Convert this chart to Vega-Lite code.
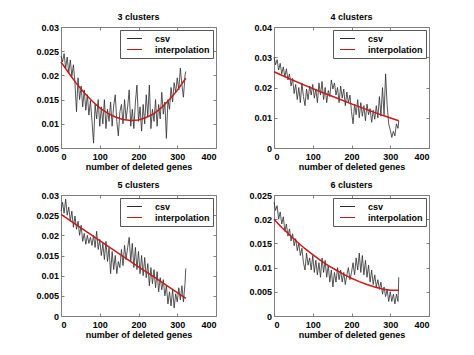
{
  "$schema": "https://vega.github.io/schema/vega-lite/v6.json",
  "background": "white",
  "padding": {"left": 35, "top": 12, "right": 0, "bottom": 0},
  "columns": 2,
  "bounds": "flush",
  "spacing": {"row": 47, "column": 58},
  "config": {
    "view": {"stroke": "#7f7f7f", "strokeWidth": 1},
    "font": "Liberation Sans",
    "axis": {"labelFont": "Liberation Sans", "labelFontWeight": "bold", "labelFontSize": 9, "labelColor": "#000", "titleFont": "Liberation Sans", "titleFontWeight": "bold", "titleFontSize": 9, "titleColor": "#000", "domain": false, "tickColor": "#7f7f7f", "tickSize": -3, "grid": false, "titlePadding": 1},
    "axisX": {"labelPadding": 7.5},
    "axisY": {"labelPadding": 5.5},
    "title": {"font": "Liberation Sans", "fontWeight": "bold", "fontSize": 9, "color": "#000", "offset": 1},
    "legend": {"orient": "top-right", "offset": 3, "strokeColor": "#555", "fillColor": "#fff", "padding": 3, "symbolType": "M-1.5,0H1.5", "symbolSize": 100, "symbolStrokeWidth": 1, "symbolOffset": 6, "labelOffset": 15, "labelFont": "Liberation Sans", "labelFontWeight": "bold", "labelFontSize": 9, "labelColor": "#000", "rowPadding": 0, "cornerRadius": 0}
  },
  "datasets": {
    "p1": [
      {"x":0,"y":0.0240,"series":"csv"},{"x":4,"y":0.0228,"series":"csv"},{"x":8,"y":0.0245,"series":"csv"},{"x":12,"y":0.0215,"series":"csv"},{"x":16,"y":0.0238,"series":"csv"},{"x":20,"y":0.0205,"series":"csv"},{"x":24,"y":0.0232,"series":"csv"},{"x":28,"y":0.0198,"series":"csv"},{"x":32,"y":0.0222,"series":"csv"},{"x":36,"y":0.0185,"series":"csv"},{"x":40,"y":0.0125,"series":"csv"},{"x":44,"y":0.0195,"series":"csv"},{"x":48,"y":0.0150,"series":"csv"},{"x":52,"y":0.0178,"series":"csv"},{"x":56,"y":0.0135,"series":"csv"},{"x":60,"y":0.0170,"series":"csv"},{"x":64,"y":0.0128,"series":"csv"},{"x":68,"y":0.0160,"series":"csv"},{"x":72,"y":0.0118,"series":"csv"},{"x":76,"y":0.0148,"series":"csv"},{"x":80,"y":0.0105,"series":"csv"},{"x":84,"y":0.0060,"series":"csv"},{"x":88,"y":0.0140,"series":"csv"},{"x":92,"y":0.0110,"series":"csv"},{"x":96,"y":0.0150,"series":"csv"},{"x":100,"y":0.0095,"series":"csv"},{"x":104,"y":0.0135,"series":"csv"},{"x":108,"y":0.0100,"series":"csv"},{"x":112,"y":0.0150,"series":"csv"},{"x":116,"y":0.0090,"series":"csv"},{"x":120,"y":0.0130,"series":"csv"},{"x":124,"y":0.0105,"series":"csv"},{"x":128,"y":0.0145,"series":"csv"},{"x":132,"y":0.0095,"series":"csv"},{"x":136,"y":0.0138,"series":"csv"},{"x":140,"y":0.0160,"series":"csv"},{"x":144,"y":0.0105,"series":"csv"},{"x":148,"y":0.0075,"series":"csv"},{"x":152,"y":0.0125,"series":"csv"},{"x":156,"y":0.0140,"series":"csv"},{"x":160,"y":0.0100,"series":"csv"},{"x":164,"y":0.0150,"series":"csv"},{"x":168,"y":0.0110,"series":"csv"},{"x":172,"y":0.0135,"series":"csv"},{"x":176,"y":0.0170,"series":"csv"},{"x":180,"y":0.0095,"series":"csv"},{"x":184,"y":0.0130,"series":"csv"},{"x":188,"y":0.0090,"series":"csv"},{"x":192,"y":0.0145,"series":"csv"},{"x":196,"y":0.0180,"series":"csv"},{"x":200,"y":0.0105,"series":"csv"},{"x":204,"y":0.0135,"series":"csv"},{"x":208,"y":0.0085,"series":"csv"},{"x":212,"y":0.0140,"series":"csv"},{"x":216,"y":0.0100,"series":"csv"},{"x":220,"y":0.0160,"series":"csv"},{"x":224,"y":0.0115,"series":"csv"},{"x":228,"y":0.0180,"series":"csv"},{"x":232,"y":0.0090,"series":"csv"},{"x":236,"y":0.0130,"series":"csv"},{"x":240,"y":0.0105,"series":"csv"},{"x":244,"y":0.0150,"series":"csv"},{"x":248,"y":0.0095,"series":"csv"},{"x":252,"y":0.0140,"series":"csv"},{"x":256,"y":0.0110,"series":"csv"},{"x":260,"y":0.0165,"series":"csv"},{"x":264,"y":0.0120,"series":"csv"},{"x":268,"y":0.0145,"series":"csv"},{"x":272,"y":0.0070,"series":"csv"},{"x":276,"y":0.0150,"series":"csv"},{"x":280,"y":0.0130,"series":"csv"},{"x":284,"y":0.0175,"series":"csv"},{"x":288,"y":0.0145,"series":"csv"},{"x":292,"y":0.0185,"series":"csv"},{"x":296,"y":0.0165,"series":"csv"},{"x":300,"y":0.0195,"series":"csv"},{"x":304,"y":0.0170,"series":"csv"},{"x":308,"y":0.0215,"series":"csv"},{"x":312,"y":0.0180,"series":"csv"},{"x":316,"y":0.0155,"series":"csv"},{"x":320,"y":0.0200,"series":"csv"},{"x":322,"y":0.0208,"series":"csv"},
      {"x":0,"y":0.0228,"series":"interpolation"},{"x":20,"y":0.0205,"series":"interpolation"},{"x":40,"y":0.0183,"series":"interpolation"},{"x":60,"y":0.0164,"series":"interpolation"},{"x":80,"y":0.0147,"series":"interpolation"},{"x":100,"y":0.0133,"series":"interpolation"},{"x":120,"y":0.0122,"series":"interpolation"},{"x":140,"y":0.0114,"series":"interpolation"},{"x":160,"y":0.0109,"series":"interpolation"},{"x":180,"y":0.0107,"series":"interpolation"},{"x":200,"y":0.0108,"series":"interpolation"},{"x":220,"y":0.0113,"series":"interpolation"},{"x":240,"y":0.0121,"series":"interpolation"},{"x":260,"y":0.0134,"series":"interpolation"},{"x":280,"y":0.0150,"series":"interpolation"},{"x":300,"y":0.0169,"series":"interpolation"},{"x":322,"y":0.0194,"series":"interpolation"}
    ],
    "p2": [
      {"x":0,"y":0.0300,"series":"csv"},{"x":4,"y":0.0275,"series":"csv"},{"x":8,"y":0.0292,"series":"csv"},{"x":12,"y":0.0258,"series":"csv"},{"x":16,"y":0.0280,"series":"csv"},{"x":20,"y":0.0245,"series":"csv"},{"x":24,"y":0.0268,"series":"csv"},{"x":28,"y":0.0235,"series":"csv"},{"x":32,"y":0.0262,"series":"csv"},{"x":36,"y":0.0225,"series":"csv"},{"x":40,"y":0.0245,"series":"csv"},{"x":44,"y":0.0205,"series":"csv"},{"x":48,"y":0.0230,"series":"csv"},{"x":52,"y":0.0180,"series":"csv"},{"x":56,"y":0.0210,"series":"csv"},{"x":60,"y":0.0160,"series":"csv"},{"x":64,"y":0.0200,"series":"csv"},{"x":68,"y":0.0150,"series":"csv"},{"x":72,"y":0.0215,"series":"csv"},{"x":76,"y":0.0170,"series":"csv"},{"x":80,"y":0.0140,"series":"csv"},{"x":84,"y":0.0195,"series":"csv"},{"x":88,"y":0.0160,"series":"csv"},{"x":92,"y":0.0205,"series":"csv"},{"x":96,"y":0.0175,"series":"csv"},{"x":100,"y":0.0210,"series":"csv"},{"x":104,"y":0.0165,"series":"csv"},{"x":108,"y":0.0195,"series":"csv"},{"x":112,"y":0.0150,"series":"csv"},{"x":116,"y":0.0215,"series":"csv"},{"x":120,"y":0.0175,"series":"csv"},{"x":124,"y":0.0220,"series":"csv"},{"x":128,"y":0.0160,"series":"csv"},{"x":132,"y":0.0200,"series":"csv"},{"x":136,"y":0.0150,"series":"csv"},{"x":140,"y":0.0190,"series":"csv"},{"x":144,"y":0.0170,"series":"csv"},{"x":148,"y":0.0225,"series":"csv"},{"x":152,"y":0.0195,"series":"csv"},{"x":156,"y":0.0215,"series":"csv"},{"x":160,"y":0.0175,"series":"csv"},{"x":164,"y":0.0200,"series":"csv"},{"x":168,"y":0.0150,"series":"csv"},{"x":172,"y":0.0205,"series":"csv"},{"x":176,"y":0.0165,"series":"csv"},{"x":180,"y":0.0195,"series":"csv"},{"x":184,"y":0.0140,"series":"csv"},{"x":188,"y":0.0185,"series":"csv"},{"x":192,"y":0.0150,"series":"csv"},{"x":196,"y":0.0175,"series":"csv"},{"x":200,"y":0.0120,"series":"csv"},{"x":204,"y":0.0080,"series":"csv"},{"x":208,"y":0.0145,"series":"csv"},{"x":212,"y":0.0110,"series":"csv"},{"x":216,"y":0.0160,"series":"csv"},{"x":220,"y":0.0100,"series":"csv"},{"x":224,"y":0.0150,"series":"csv"},{"x":228,"y":0.0105,"series":"csv"},{"x":232,"y":0.0140,"series":"csv"},{"x":236,"y":0.0090,"series":"csv"},{"x":240,"y":0.0145,"series":"csv"},{"x":244,"y":0.0110,"series":"csv"},{"x":248,"y":0.0130,"series":"csv"},{"x":252,"y":0.0085,"series":"csv"},{"x":256,"y":0.0125,"series":"csv"},{"x":260,"y":0.0095,"series":"csv"},{"x":264,"y":0.0140,"series":"csv"},{"x":268,"y":0.0100,"series":"csv"},{"x":272,"y":0.0170,"series":"csv"},{"x":276,"y":0.0105,"series":"csv"},{"x":280,"y":0.0200,"series":"csv"},{"x":284,"y":0.0110,"series":"csv"},{"x":288,"y":0.0245,"series":"csv"},{"x":292,"y":0.0140,"series":"csv"},{"x":296,"y":0.0080,"series":"csv"},{"x":300,"y":0.0060,"series":"csv"},{"x":304,"y":0.0035,"series":"csv"},{"x":308,"y":0.0055,"series":"csv"},{"x":312,"y":0.0040,"series":"csv"},{"x":316,"y":0.0080,"series":"csv"},{"x":320,"y":0.0065,"series":"csv"},{"x":322,"y":0.0090,"series":"csv"},
      {"x":0,"y":0.0252,"series":"interpolation"},{"x":40,"y":0.0229,"series":"interpolation"},{"x":80,"y":0.0207,"series":"interpolation"},{"x":120,"y":0.0186,"series":"interpolation"},{"x":160,"y":0.0166,"series":"interpolation"},{"x":200,"y":0.0146,"series":"interpolation"},{"x":240,"y":0.0127,"series":"interpolation"},{"x":280,"y":0.0108,"series":"interpolation"},{"x":322,"y":0.0090,"series":"interpolation"}
    ],
    "p3": [
      {"x":0,"y":0.0260,"series":"csv"},{"x":4,"y":0.0282,"series":"csv"},{"x":8,"y":0.0255,"series":"csv"},{"x":12,"y":0.0290,"series":"csv"},{"x":16,"y":0.0250,"series":"csv"},{"x":20,"y":0.0270,"series":"csv"},{"x":24,"y":0.0235,"series":"csv"},{"x":28,"y":0.0260,"series":"csv"},{"x":32,"y":0.0220,"series":"csv"},{"x":36,"y":0.0248,"series":"csv"},{"x":40,"y":0.0215,"series":"csv"},{"x":44,"y":0.0235,"series":"csv"},{"x":48,"y":0.0200,"series":"csv"},{"x":52,"y":0.0225,"series":"csv"},{"x":56,"y":0.0185,"series":"csv"},{"x":60,"y":0.0205,"series":"csv"},{"x":64,"y":0.0178,"series":"csv"},{"x":68,"y":0.0200,"series":"csv"},{"x":72,"y":0.0180,"series":"csv"},{"x":76,"y":0.0195,"series":"csv"},{"x":80,"y":0.0175,"series":"csv"},{"x":84,"y":0.0200,"series":"csv"},{"x":88,"y":0.0170,"series":"csv"},{"x":92,"y":0.0210,"series":"csv"},{"x":96,"y":0.0165,"series":"csv"},{"x":100,"y":0.0190,"series":"csv"},{"x":104,"y":0.0150,"series":"csv"},{"x":108,"y":0.0180,"series":"csv"},{"x":112,"y":0.0140,"series":"csv"},{"x":116,"y":0.0185,"series":"csv"},{"x":120,"y":0.0135,"series":"csv"},{"x":124,"y":0.0170,"series":"csv"},{"x":128,"y":0.0105,"series":"csv"},{"x":132,"y":0.0160,"series":"csv"},{"x":136,"y":0.0115,"series":"csv"},{"x":140,"y":0.0150,"series":"csv"},{"x":144,"y":0.0105,"series":"csv"},{"x":148,"y":0.0135,"series":"csv"},{"x":152,"y":0.0120,"series":"csv"},{"x":156,"y":0.0165,"series":"csv"},{"x":160,"y":0.0125,"series":"csv"},{"x":164,"y":0.0175,"series":"csv"},{"x":168,"y":0.0140,"series":"csv"},{"x":172,"y":0.0170,"series":"csv"},{"x":176,"y":0.0195,"series":"csv"},{"x":180,"y":0.0135,"series":"csv"},{"x":184,"y":0.0180,"series":"csv"},{"x":188,"y":0.0120,"series":"csv"},{"x":192,"y":0.0170,"series":"csv"},{"x":196,"y":0.0115,"series":"csv"},{"x":200,"y":0.0160,"series":"csv"},{"x":204,"y":0.0105,"series":"csv"},{"x":208,"y":0.0150,"series":"csv"},{"x":212,"y":0.0100,"series":"csv"},{"x":216,"y":0.0145,"series":"csv"},{"x":220,"y":0.0095,"series":"csv"},{"x":224,"y":0.0130,"series":"csv"},{"x":228,"y":0.0075,"series":"csv"},{"x":232,"y":0.0120,"series":"csv"},{"x":236,"y":0.0080,"series":"csv"},{"x":240,"y":0.0115,"series":"csv"},{"x":244,"y":0.0070,"series":"csv"},{"x":248,"y":0.0110,"series":"csv"},{"x":252,"y":0.0060,"series":"csv"},{"x":256,"y":0.0095,"series":"csv"},{"x":260,"y":0.0065,"series":"csv"},{"x":264,"y":0.0090,"series":"csv"},{"x":268,"y":0.0050,"series":"csv"},{"x":272,"y":0.0075,"series":"csv"},{"x":276,"y":0.0030,"series":"csv"},{"x":280,"y":0.0060,"series":"csv"},{"x":284,"y":0.0025,"series":"csv"},{"x":288,"y":0.0065,"series":"csv"},{"x":292,"y":0.0020,"series":"csv"},{"x":296,"y":0.0055,"series":"csv"},{"x":300,"y":0.0035,"series":"csv"},{"x":304,"y":0.0070,"series":"csv"},{"x":308,"y":0.0040,"series":"csv"},{"x":312,"y":0.0075,"series":"csv"},{"x":316,"y":0.0035,"series":"csv"},{"x":320,"y":0.0080,"series":"csv"},{"x":322,"y":0.0118,"series":"csv"},
      {"x":0,"y":0.0252,"series":"interpolation"},{"x":40,"y":0.0226,"series":"interpolation"},{"x":80,"y":0.0200,"series":"interpolation"},{"x":120,"y":0.0174,"series":"interpolation"},{"x":160,"y":0.0148,"series":"interpolation"},{"x":200,"y":0.0122,"series":"interpolation"},{"x":240,"y":0.0097,"series":"interpolation"},{"x":280,"y":0.0071,"series":"interpolation"},{"x":322,"y":0.0044,"series":"interpolation"}
    ],
    "p4": [
      {"x":0,"y":0.0235,"series":"csv"},{"x":4,"y":0.0218,"series":"csv"},{"x":8,"y":0.0228,"series":"csv"},{"x":12,"y":0.0200,"series":"csv"},{"x":16,"y":0.0215,"series":"csv"},{"x":20,"y":0.0190,"series":"csv"},{"x":24,"y":0.0205,"series":"csv"},{"x":28,"y":0.0175,"series":"csv"},{"x":32,"y":0.0190,"series":"csv"},{"x":36,"y":0.0165,"series":"csv"},{"x":40,"y":0.0180,"series":"csv"},{"x":44,"y":0.0155,"series":"csv"},{"x":48,"y":0.0170,"series":"csv"},{"x":52,"y":0.0145,"series":"csv"},{"x":56,"y":0.0160,"series":"csv"},{"x":60,"y":0.0135,"series":"csv"},{"x":64,"y":0.0150,"series":"csv"},{"x":68,"y":0.0125,"series":"csv"},{"x":72,"y":0.0140,"series":"csv"},{"x":76,"y":0.0110,"series":"csv"},{"x":80,"y":0.0095,"series":"csv"},{"x":84,"y":0.0130,"series":"csv"},{"x":88,"y":0.0105,"series":"csv"},{"x":92,"y":0.0120,"series":"csv"},{"x":96,"y":0.0095,"series":"csv"},{"x":100,"y":0.0125,"series":"csv"},{"x":104,"y":0.0090,"series":"csv"},{"x":108,"y":0.0115,"series":"csv"},{"x":112,"y":0.0085,"series":"csv"},{"x":116,"y":0.0110,"series":"csv"},{"x":120,"y":0.0080,"series":"csv"},{"x":124,"y":0.0120,"series":"csv"},{"x":128,"y":0.0090,"series":"csv"},{"x":132,"y":0.0115,"series":"csv"},{"x":136,"y":0.0080,"series":"csv"},{"x":140,"y":0.0105,"series":"csv"},{"x":144,"y":0.0070,"series":"csv"},{"x":148,"y":0.0095,"series":"csv"},{"x":152,"y":0.0060,"series":"csv"},{"x":156,"y":0.0090,"series":"csv"},{"x":160,"y":0.0070,"series":"csv"},{"x":164,"y":0.0100,"series":"csv"},{"x":168,"y":0.0075,"series":"csv"},{"x":172,"y":0.0095,"series":"csv"},{"x":176,"y":0.0070,"series":"csv"},{"x":180,"y":0.0090,"series":"csv"},{"x":184,"y":0.0065,"series":"csv"},{"x":188,"y":0.0085,"series":"csv"},{"x":192,"y":0.0100,"series":"csv"},{"x":196,"y":0.0075,"series":"csv"},{"x":200,"y":0.0090,"series":"csv"},{"x":204,"y":0.0110,"series":"csv"},{"x":208,"y":0.0085,"series":"csv"},{"x":212,"y":0.0120,"series":"csv"},{"x":216,"y":0.0095,"series":"csv"},{"x":220,"y":0.0130,"series":"csv"},{"x":224,"y":0.0090,"series":"csv"},{"x":228,"y":0.0125,"series":"csv"},{"x":232,"y":0.0085,"series":"csv"},{"x":236,"y":0.0115,"series":"csv"},{"x":240,"y":0.0080,"series":"csv"},{"x":244,"y":0.0105,"series":"csv"},{"x":248,"y":0.0070,"series":"csv"},{"x":252,"y":0.0095,"series":"csv"},{"x":256,"y":0.0065,"series":"csv"},{"x":260,"y":0.0085,"series":"csv"},{"x":264,"y":0.0060,"series":"csv"},{"x":268,"y":0.0075,"series":"csv"},{"x":272,"y":0.0055,"series":"csv"},{"x":276,"y":0.0070,"series":"csv"},{"x":280,"y":0.0045,"series":"csv"},{"x":284,"y":0.0060,"series":"csv"},{"x":288,"y":0.0040,"series":"csv"},{"x":292,"y":0.0055,"series":"csv"},{"x":296,"y":0.0030,"series":"csv"},{"x":300,"y":0.0050,"series":"csv"},{"x":304,"y":0.0030,"series":"csv"},{"x":308,"y":0.0045,"series":"csv"},{"x":312,"y":0.0025,"series":"csv"},{"x":316,"y":0.0045,"series":"csv"},{"x":320,"y":0.0030,"series":"csv"},{"x":322,"y":0.0080,"series":"csv"},
      {"x":0,"y":0.0200,"series":"interpolation"},{"x":20,"y":0.0183,"series":"interpolation"},{"x":40,"y":0.0168,"series":"interpolation"},{"x":60,"y":0.0153,"series":"interpolation"},{"x":80,"y":0.0139,"series":"interpolation"},{"x":100,"y":0.0127,"series":"interpolation"},{"x":120,"y":0.0115,"series":"interpolation"},{"x":140,"y":0.0104,"series":"interpolation"},{"x":160,"y":0.0095,"series":"interpolation"},{"x":180,"y":0.0086,"series":"interpolation"},{"x":200,"y":0.0078,"series":"interpolation"},{"x":220,"y":0.0071,"series":"interpolation"},{"x":240,"y":0.0065,"series":"interpolation"},{"x":260,"y":0.0060,"series":"interpolation"},{"x":280,"y":0.0056,"series":"interpolation"},{"x":300,"y":0.0053,"series":"interpolation"},{"x":322,"y":0.0053,"series":"interpolation"}
    ]
  },
  "resolve": {"scale": {"x": "independent", "y": "independent", "color": "independent"}, "legend": {"color": "independent"}},
  "concat": [
    {
      "title": "3 clusters", "width": 155, "height": 121,
      "data": {"name": "p1"},
      "encoding": {"color": {"field": "series", "type": "nominal", "scale": {"domain": ["csv", "interpolation"], "range": ["#2b2b2b", "#c41a1a"]}, "legend": {"title": null, "encode": {"symbols": {"update": {"stroke": [{"test": "datum.value === 'interpolation'", "value": "#c41a1a"}, {"value": "#2b2b2b"}]}}}}}},
      "layer": [
        {"transform": [{"filter": "datum.series === 'csv'"}], "mark": {"type": "line", "strokeWidth": 0.8},
         "encoding": {"x": {"field": "x", "type": "quantitative", "scale": {"domain": [0, 400], "nice": false}, "axis": {"values": [0, 100, 200, 300, 400], "format": "d", "title": "number of deleted genes"}},
                      "y": {"field": "y", "type": "quantitative", "scale": {"domain": [0.005, 0.03], "nice": false, "zero": false}, "axis": {"values": [0.005, 0.01, 0.015, 0.02, 0.025, 0.03], "format": "~g", "title": null}}}},
        {"transform": [{"filter": "datum.series === 'interpolation'"}], "mark": {"type": "line", "strokeWidth": 1.5},
         "encoding": {"x": {"field": "x", "type": "quantitative", "scale": {"domain": [0, 400], "nice": false}, "axis": {"orient": "top", "values": [0, 100, 200, 300, 400], "labels": false, "title": null}},
                      "y": {"field": "y", "type": "quantitative", "scale": {"domain": [0.005, 0.03], "nice": false, "zero": false}, "axis": {"orient": "right", "values": [0.005, 0.01, 0.015, 0.02, 0.025, 0.03], "labels": false, "title": null}}}}
      ],
      "resolve": {"axis": {"x": "independent", "y": "independent"}}
    },
    {
      "title": "4 clusters", "width": 155, "height": 121,
      "data": {"name": "p2"},
      "encoding": {"color": {"field": "series", "type": "nominal", "scale": {"domain": ["csv", "interpolation"], "range": ["#2b2b2b", "#c41a1a"]}, "legend": {"title": null, "encode": {"symbols": {"update": {"stroke": [{"test": "datum.value === 'interpolation'", "value": "#c41a1a"}, {"value": "#2b2b2b"}]}}}}}},
      "layer": [
        {"transform": [{"filter": "datum.series === 'csv'"}], "mark": {"type": "line", "strokeWidth": 0.8},
         "encoding": {"x": {"field": "x", "type": "quantitative", "scale": {"domain": [0, 400], "nice": false}, "axis": {"values": [0, 100, 200, 300, 400], "format": "d", "title": "number of deleted genes"}},
                      "y": {"field": "y", "type": "quantitative", "scale": {"domain": [0, 0.04], "nice": false, "zero": false}, "axis": {"values": [0, 0.01, 0.02, 0.03, 0.04], "format": "~g", "title": null}}}},
        {"transform": [{"filter": "datum.series === 'interpolation'"}], "mark": {"type": "line", "strokeWidth": 1.5},
         "encoding": {"x": {"field": "x", "type": "quantitative", "scale": {"domain": [0, 400], "nice": false}, "axis": {"orient": "top", "values": [0, 100, 200, 300, 400], "labels": false, "title": null}},
                      "y": {"field": "y", "type": "quantitative", "scale": {"domain": [0, 0.04], "nice": false, "zero": false}, "axis": {"orient": "right", "values": [0, 0.01, 0.02, 0.03, 0.04], "labels": false, "title": null}}}}
      ],
      "resolve": {"axis": {"x": "independent", "y": "independent"}}
    },
    {
      "title": "5 clusters", "width": 155, "height": 121,
      "data": {"name": "p3"},
      "encoding": {"color": {"field": "series", "type": "nominal", "scale": {"domain": ["csv", "interpolation"], "range": ["#2b2b2b", "#c41a1a"]}, "legend": {"title": null, "encode": {"symbols": {"update": {"stroke": [{"test": "datum.value === 'interpolation'", "value": "#c41a1a"}, {"value": "#2b2b2b"}]}}}}}},
      "layer": [
        {"transform": [{"filter": "datum.series === 'csv'"}], "mark": {"type": "line", "strokeWidth": 0.8},
         "encoding": {"x": {"field": "x", "type": "quantitative", "scale": {"domain": [0, 400], "nice": false}, "axis": {"values": [0, 100, 200, 300, 400], "format": "d", "title": "number of deleted genes"}},
                      "y": {"field": "y", "type": "quantitative", "scale": {"domain": [0, 0.03], "nice": false, "zero": false}, "axis": {"values": [0, 0.005, 0.01, 0.015, 0.02, 0.025, 0.03], "format": "~g", "title": null}}}},
        {"transform": [{"filter": "datum.series === 'interpolation'"}], "mark": {"type": "line", "strokeWidth": 1.5},
         "encoding": {"x": {"field": "x", "type": "quantitative", "scale": {"domain": [0, 400], "nice": false}, "axis": {"orient": "top", "values": [0, 100, 200, 300, 400], "labels": false, "title": null}},
                      "y": {"field": "y", "type": "quantitative", "scale": {"domain": [0, 0.03], "nice": false, "zero": false}, "axis": {"orient": "right", "values": [0, 0.005, 0.01, 0.015, 0.02, 0.025, 0.03], "labels": false, "title": null}}}}
      ],
      "resolve": {"axis": {"x": "independent", "y": "independent"}}
    },
    {
      "title": "6 clusters", "width": 155, "height": 121,
      "data": {"name": "p4"},
      "encoding": {"color": {"field": "series", "type": "nominal", "scale": {"domain": ["csv", "interpolation"], "range": ["#2b2b2b", "#c41a1a"]}, "legend": {"title": null, "encode": {"symbols": {"update": {"stroke": [{"test": "datum.value === 'interpolation'", "value": "#c41a1a"}, {"value": "#2b2b2b"}]}}}}}},
      "layer": [
        {"transform": [{"filter": "datum.series === 'csv'"}], "mark": {"type": "line", "strokeWidth": 0.8},
         "encoding": {"x": {"field": "x", "type": "quantitative", "scale": {"domain": [0, 400], "nice": false}, "axis": {"values": [0, 100, 200, 300, 400], "format": "d", "title": "number of deleted genes"}},
                      "y": {"field": "y", "type": "quantitative", "scale": {"domain": [0, 0.025], "nice": false, "zero": false}, "axis": {"values": [0, 0.005, 0.01, 0.015, 0.02, 0.025], "format": "~g", "title": null}}}},
        {"transform": [{"filter": "datum.series === 'interpolation'"}], "mark": {"type": "line", "strokeWidth": 1.5},
         "encoding": {"x": {"field": "x", "type": "quantitative", "scale": {"domain": [0, 400], "nice": false}, "axis": {"orient": "top", "values": [0, 100, 200, 300, 400], "labels": false, "title": null}},
                      "y": {"field": "y", "type": "quantitative", "scale": {"domain": [0, 0.025], "nice": false, "zero": false}, "axis": {"orient": "right", "values": [0, 0.005, 0.01, 0.015, 0.02, 0.025], "labels": false, "title": null}}}}
      ],
      "resolve": {"axis": {"x": "independent", "y": "independent"}}
    }
  ]
}
